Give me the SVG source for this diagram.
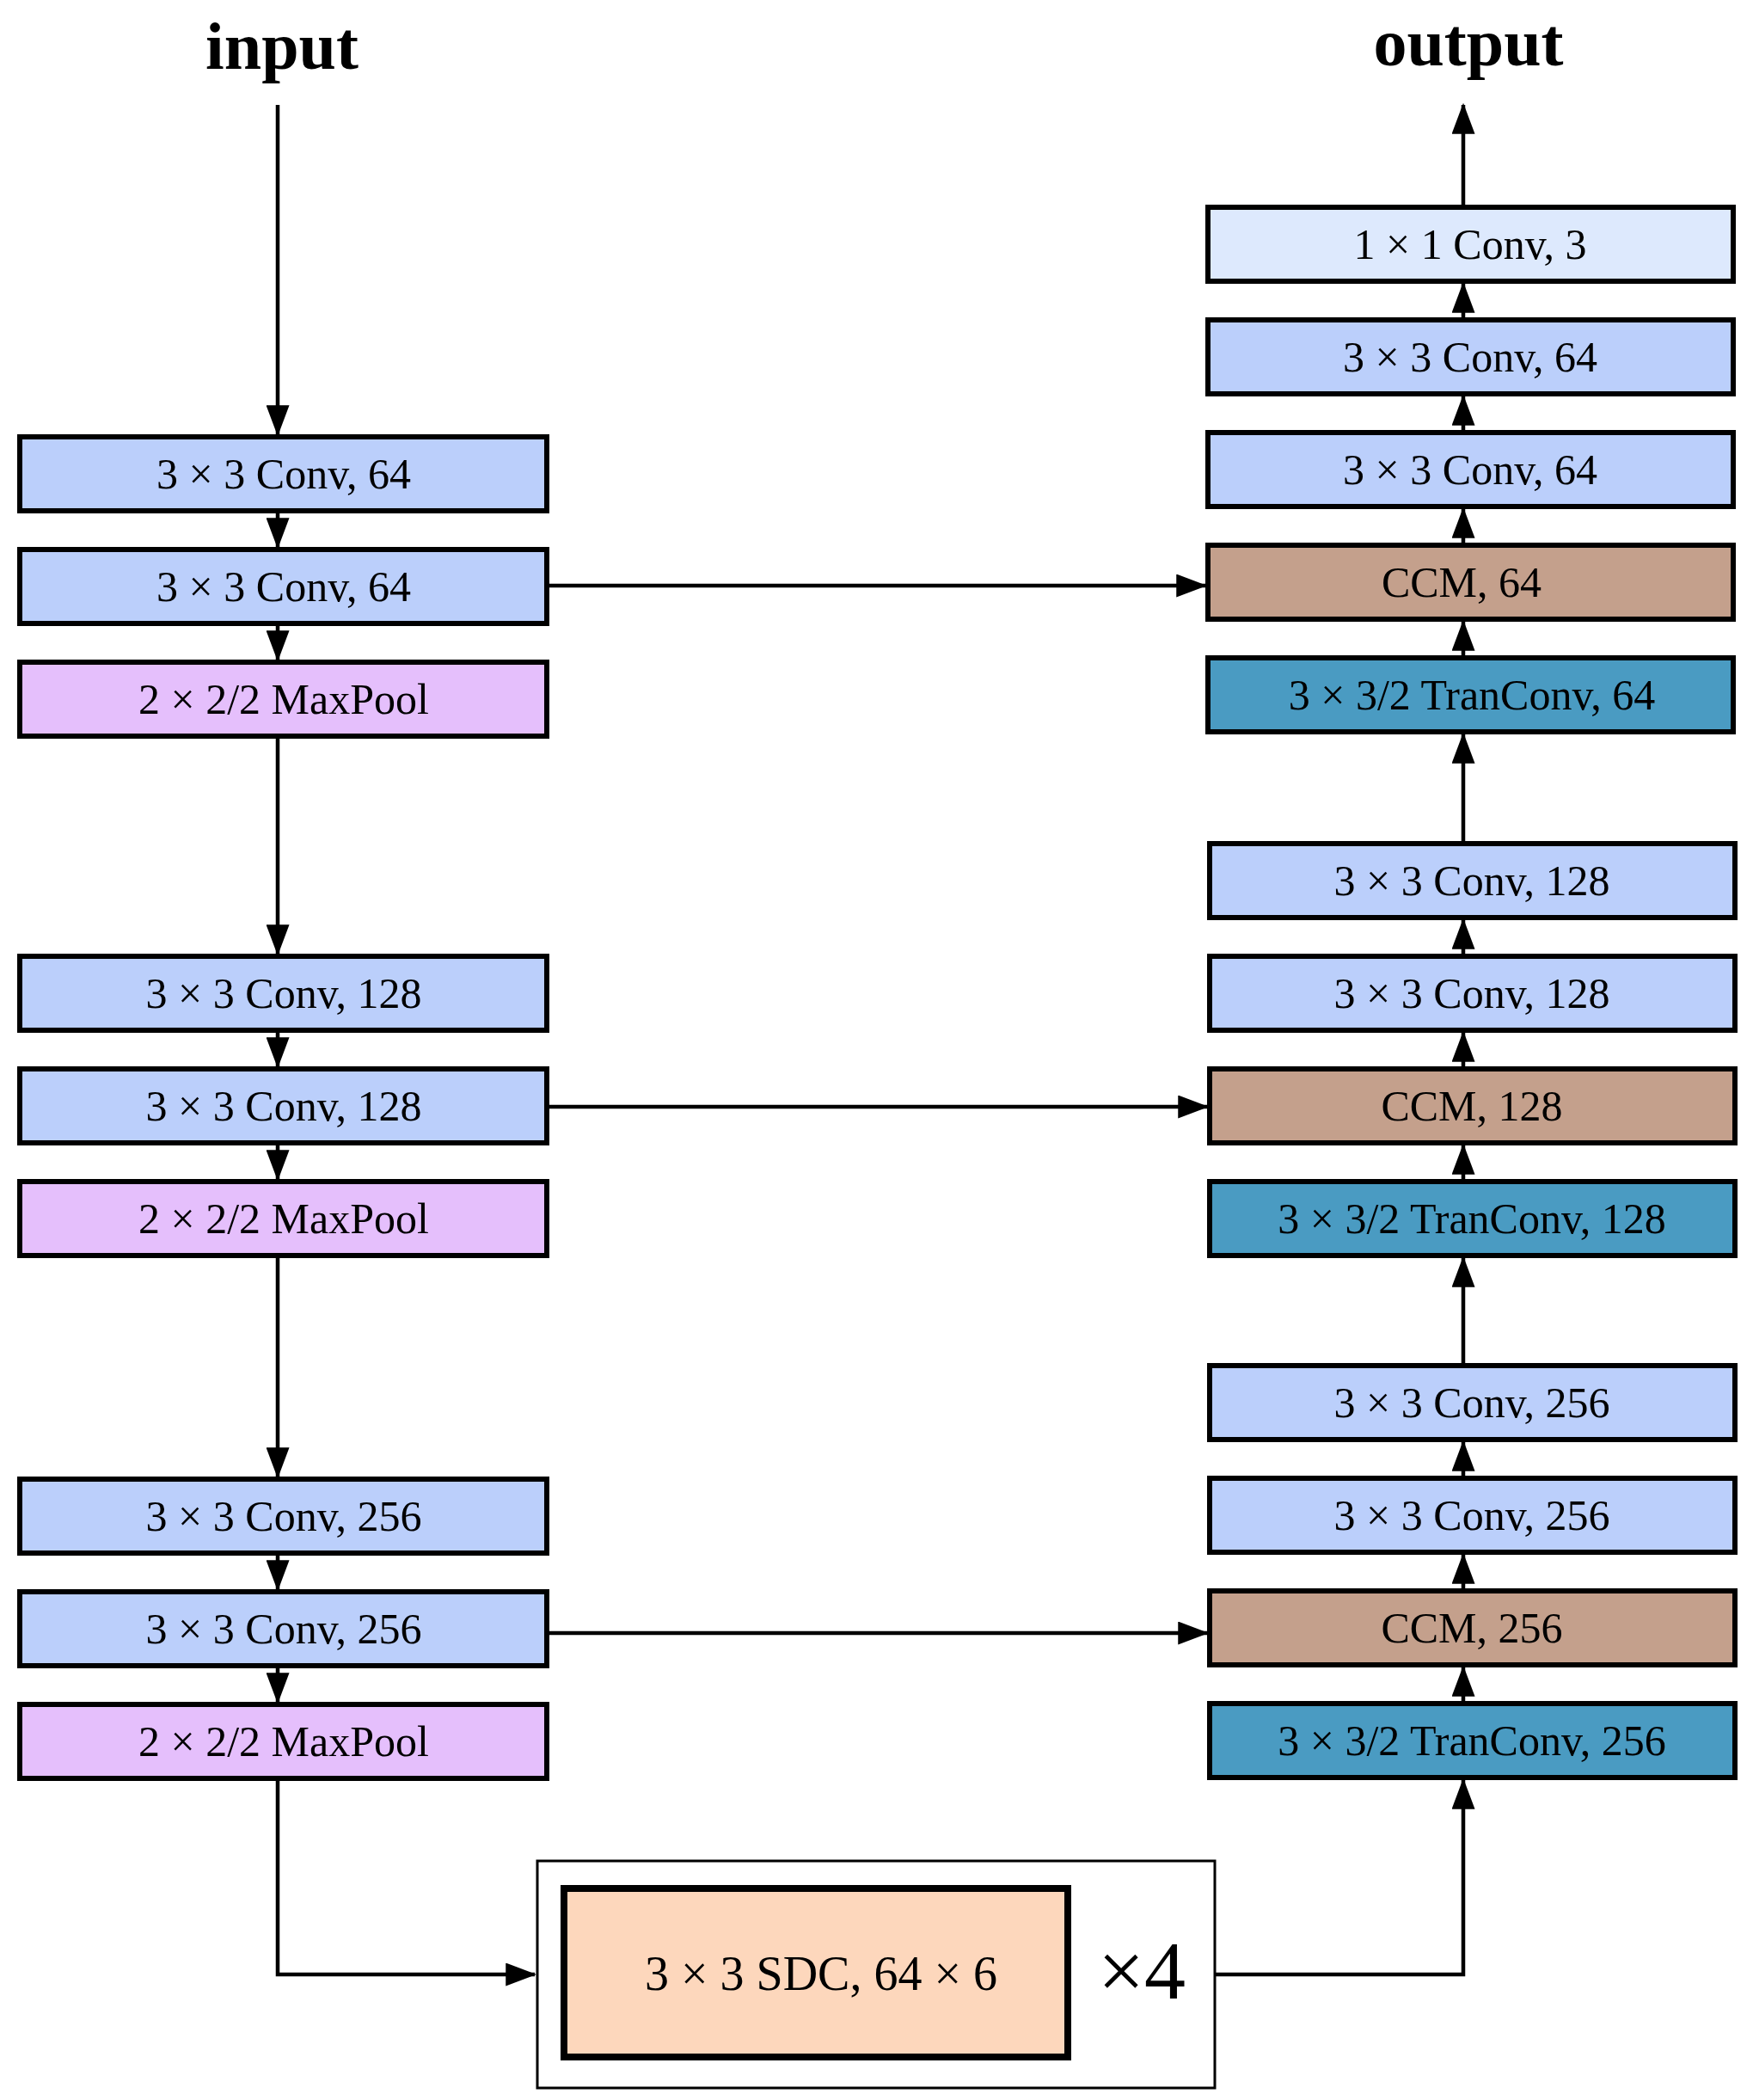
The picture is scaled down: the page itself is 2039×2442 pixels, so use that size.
<svg xmlns="http://www.w3.org/2000/svg" width="2039" height="2442" viewBox="0 0 2039 2442">
<style>
.b{stroke:#000;stroke-width:6}
.conv{fill:#bbcffb}.c1{fill:#dde9fd}.mp{fill:#e5bffc}.ccm{fill:#c4a08c}.tr{fill:#4a9bc2}
text{font-family:"Liberation Serif","DejaVu Serif",serif;font-size:50px;text-anchor:middle;fill:#000}
.h{font-weight:bold;font-size:78px}
.e{fill:none;stroke:#000;stroke-width:4.5}
</style>
<defs><marker id="a" markerWidth="8" markerHeight="6" refX="7.5" refY="3" orient="auto" markerUnits="strokeWidth"><path d="M0,0L8,3L0,6z" fill="#000"/></marker></defs>
<text class="h" x="328" y="80">input</text>
<text class="h" x="1708" y="76">output</text>
<g id="L1"><rect class="b conv" x="23" y="508" width="613" height="86"/><text x="330" y="568">3 × 3 Conv, 64</text></g>
<g id="L2"><rect class="b conv" x="23" y="639" width="613" height="86"/><text x="330" y="699">3 × 3 Conv, 64</text></g>
<g id="L3"><rect class="b mp" x="23" y="770" width="613" height="86"/><text x="330" y="830">2 × 2/2 MaxPool</text></g>
<g id="L4"><rect class="b conv" x="23" y="1112" width="613" height="86"/><text x="330" y="1172">3 × 3 Conv, 128</text></g>
<g id="L5"><rect class="b conv" x="23" y="1243" width="613" height="86"/><text x="330" y="1303">3 × 3 Conv, 128</text></g>
<g id="L6"><rect class="b mp" x="23" y="1374" width="613" height="86"/><text x="330" y="1434">2 × 2/2 MaxPool</text></g>
<g id="L7"><rect class="b conv" x="23" y="1720" width="613" height="86"/><text x="330" y="1780">3 × 3 Conv, 256</text></g>
<g id="L8"><rect class="b conv" x="23" y="1851" width="613" height="86"/><text x="330" y="1911">3 × 3 Conv, 256</text></g>
<g id="L9"><rect class="b mp" x="23" y="1982" width="613" height="86"/><text x="330" y="2042">2 × 2/2 MaxPool</text></g>
<g id="R1"><rect class="b c1" x="1405" y="241" width="611" height="86"/><text x="1710" y="301">1 × 1 Conv, 3</text></g>
<g id="R2"><rect class="b conv" x="1405" y="372" width="611" height="86"/><text x="1710" y="432">3 × 3 Conv, 64</text></g>
<g id="R3"><rect class="b conv" x="1405" y="503" width="611" height="86"/><text x="1710" y="563">3 × 3 Conv, 64</text></g>
<g id="R4"><rect class="b ccm" x="1405" y="634" width="611" height="86"/><text x="1700" y="694">CCM, 64</text></g>
<g id="R5"><rect class="b tr" x="1405" y="765" width="611" height="86"/><text x="1712" y="825">3 × 3/2 TranConv, 64</text></g>
<g id="R6"><rect class="b conv" x="1407" y="981" width="611" height="86"/><text x="1712" y="1041">3 × 3 Conv, 128</text></g>
<g id="R7"><rect class="b conv" x="1407" y="1112" width="611" height="86"/><text x="1712" y="1172">3 × 3 Conv, 128</text></g>
<g id="R8"><rect class="b ccm" x="1407" y="1243" width="611" height="86"/><text x="1712" y="1303">CCM, 128</text></g>
<g id="R9"><rect class="b tr" x="1407" y="1374" width="611" height="86"/><text x="1712" y="1434">3 × 3/2 TranConv, 128</text></g>
<g id="R10"><rect class="b conv" x="1407" y="1588" width="611" height="86"/><text x="1712" y="1648">3 × 3 Conv, 256</text></g>
<g id="R11"><rect class="b conv" x="1407" y="1719" width="611" height="86"/><text x="1712" y="1779">3 × 3 Conv, 256</text></g>
<g id="R12"><rect class="b ccm" x="1407" y="1850" width="611" height="86"/><text x="1712" y="1910">CCM, 256</text></g>
<g id="R13"><rect class="b tr" x="1407" y="1981" width="611" height="86"/><text x="1712" y="2041">3 × 3/2 TranConv, 256</text></g>
<g id="SDC"><rect x="625" y="2164" width="788" height="264" fill="#fff" stroke="#000" stroke-width="3"/><rect x="656" y="2196" width="586" height="196" fill="#fdd7bc" stroke="#000" stroke-width="8"/><text x="955" y="2314" style="font-size:56px">3 × 3 SDC, 64 × 6</text><text x="1328" y="2324" style="font-size:96px">×4</text></g>
<g id="connectors">
<path class="e" marker-end="url(#a)" d="M323,122V505"/>
<path class="e" marker-end="url(#a)" d="M323,594V636"/>
<path class="e" marker-end="url(#a)" d="M323,725V767"/>
<path class="e" marker-end="url(#a)" d="M323,856V1109"/>
<path class="e" marker-end="url(#a)" d="M323,1198V1240"/>
<path class="e" marker-end="url(#a)" d="M323,1329V1371"/>
<path class="e" marker-end="url(#a)" d="M323,1460V1717"/>
<path class="e" marker-end="url(#a)" d="M323,1806V1848"/>
<path class="e" marker-end="url(#a)" d="M323,1937V1979"/>
<path class="e" marker-end="url(#a)" d="M323,2068V2296H622"/>
<path class="e" marker-end="url(#a)" d="M1413,2296H1702V2070"/>
<path class="e" marker-end="url(#a)" d="M1702,1981V1939"/>
<path class="e" marker-end="url(#a)" d="M1702,1850V1808"/>
<path class="e" marker-end="url(#a)" d="M1702,1719V1677"/>
<path class="e" marker-end="url(#a)" d="M1702,1588V1463"/>
<path class="e" marker-end="url(#a)" d="M1702,1374V1332"/>
<path class="e" marker-end="url(#a)" d="M1702,1243V1201"/>
<path class="e" marker-end="url(#a)" d="M1702,1112V1070"/>
<path class="e" marker-end="url(#a)" d="M1702,981V854"/>
<path class="e" marker-end="url(#a)" d="M1702,765V723"/>
<path class="e" marker-end="url(#a)" d="M1702,634V592"/>
<path class="e" marker-end="url(#a)" d="M1702,503V461"/>
<path class="e" marker-end="url(#a)" d="M1702,372V330"/>
<path class="e" marker-end="url(#a)" d="M1702,241V122"/>
<path class="e" marker-end="url(#a)" d="M636,681H1402"/>
<path class="e" marker-end="url(#a)" d="M636,1287H1404"/>
<path class="e" marker-end="url(#a)" d="M636,1899H1404"/>
</g>
</svg>
